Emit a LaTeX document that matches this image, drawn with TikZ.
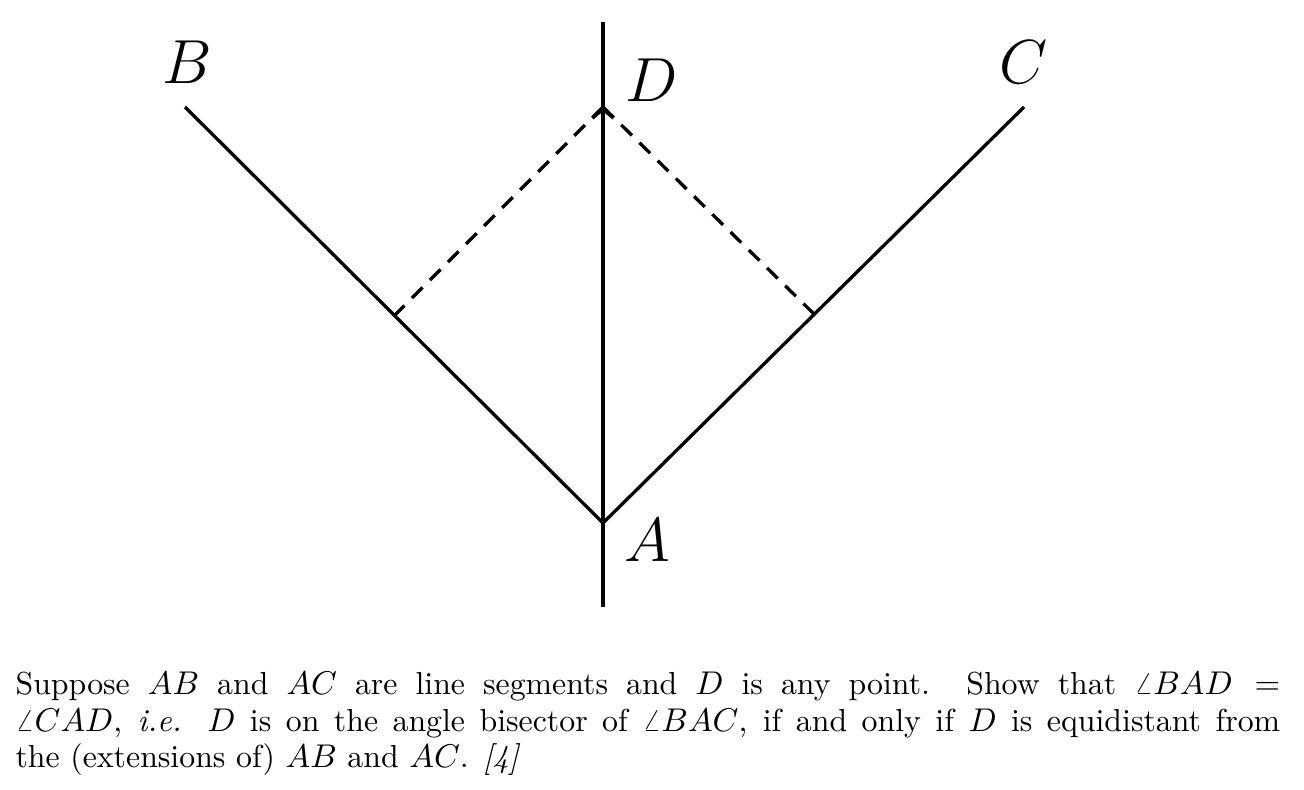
\documentclass[tikz,border=0pt]{standalone}
\usetikzlibrary{arrows.meta}
\begin{document}
\begin{tikzpicture}[x=0.0117cm,y=-0.0117cm,
  seg/.style={line width=1.1pt},
  dsh/.style={line width=1.1pt,dash pattern=on 5pt off 3.5pt},
  lbl/.style={font=\fontsize{22}{26}\selectfont\itshape}]
\useasboundingbox (0,0) rectangle (1304,790);
\coordinate (A) at (603,523);
\coordinate (B) at (185,107);
\coordinate (C) at (1024,107);
\coordinate (D) at (603,107);
\coordinate (T) at (603,22);
\coordinate (Bot) at (603,607);
\coordinate (F1) at (395,315);
\coordinate (F2) at (815,315);
\draw[seg] (A) -- (B);
\draw[seg] (A) -- (C);
\draw[seg] (D) -- (T);
\draw[seg,-{Straight Barb[length=3pt,width=7pt]}] (Bot) -- (D);
\draw[dsh] (D) -- (F1);
\draw[dsh] (D) -- (F2);
\node[lbl] (lB) at (187,62) {$B$};
\node[lbl] (lC) at (1024,62) {$C$};
\node[lbl] (lD) at (652,80) {$D$};
\node[lbl] (lA) at (647,540) {$A$};
\node[anchor=north west,inner sep=0pt,text width=14.8cm,align=justify,font=\fontsize{10.6}{12.3}\selectfont] (cap) at (15,671)
{Suppose $AB$ and $AC$ are line segments and $D$ is any point. Show that $\angle BAD=$\linebreak $\angle CAD$, \textit{i.e.} $D$ is on the angle bisector of $\angle BAC$, if and only if $D$ is equidistant from\linebreak the (extensions of) $AB$ and $AC$. \textit{[4]}};
\end{tikzpicture}
\end{document}
